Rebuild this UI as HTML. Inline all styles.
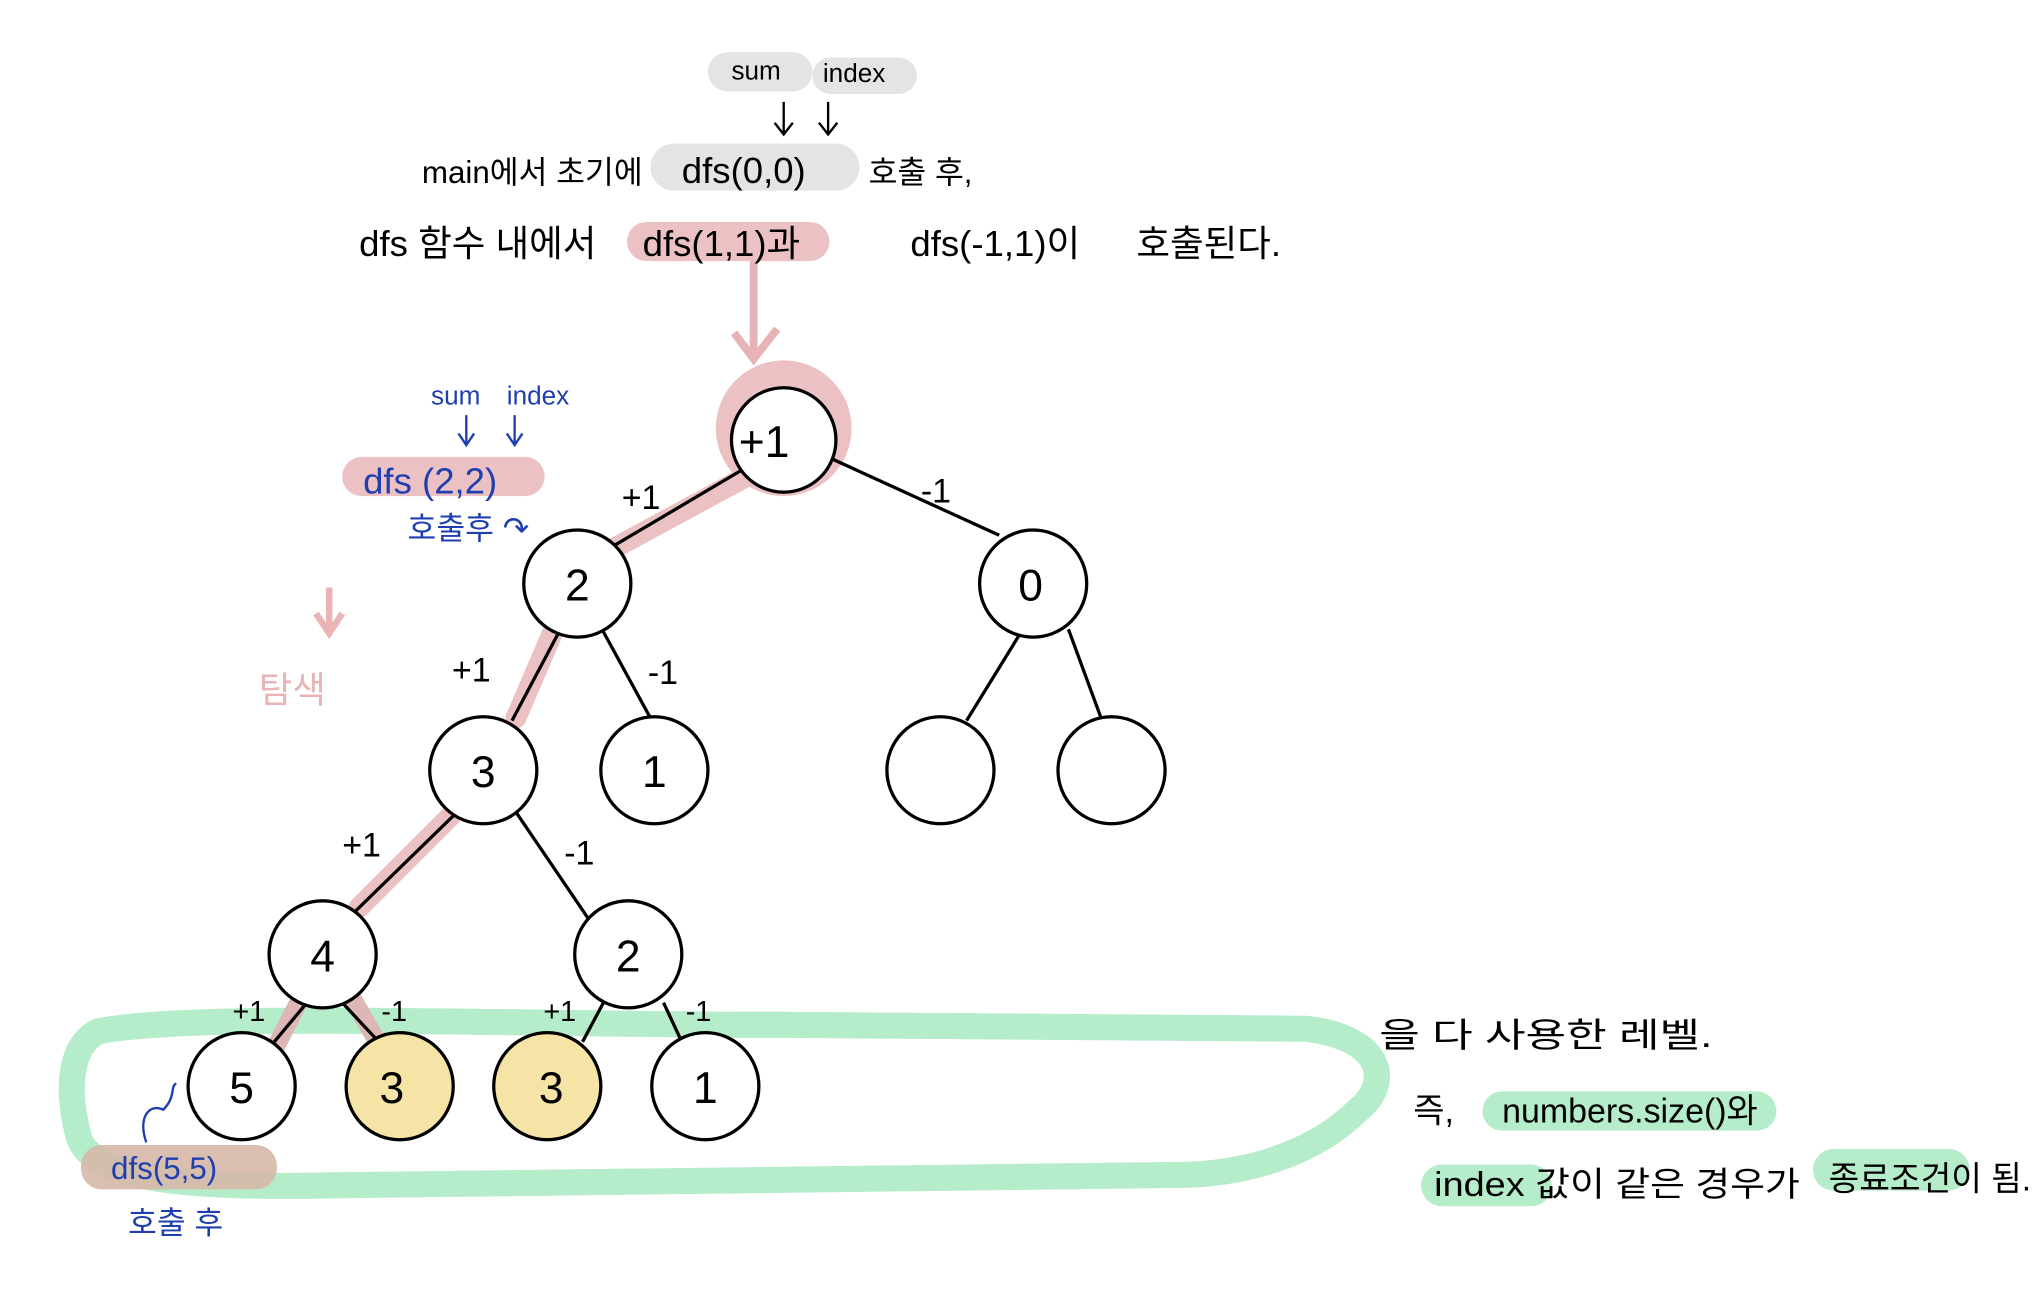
<!DOCTYPE html>
<html><head><meta charset="utf-8"><style>
html,body{margin:0;padding:0;background:#fff;}
svg{display:block;}
text{font-family:"Liberation Sans","Noto Sans CJK KR",sans-serif;}
</style></head><body>
<svg width="2035" height="1299" viewBox="0 0 1558 995" preserveAspectRatio="none" xmlns="http://www.w3.org/2000/svg">
<rect width="1558" height="995" fill="#fff"/>
<path d="M75,790 C150,775 400,785 600,785 L1000,788 C1060,795 1065,830 1040,850 C1010,880 960,900 900,900 L250,908 C150,910 70,905 60,870 C50,830 55,800 75,790 Z" fill="none" stroke="#b5ecc9" stroke-width="20"/>
<rect x="542" y="40" width="80" height="30" rx="15" fill="#e4e4e4"/>
<rect x="622" y="44" width="80" height="28" rx="14" fill="#e4e4e4"/>
<rect x="498" y="110" width="160" height="36" rx="18" fill="#e4e4e4"/>
<rect x="480" y="170" width="155" height="30" rx="15" fill="#ebc1c4"/>
<rect x="262" y="350" width="155" height="30" rx="15" fill="#ebc1c4"/>
<rect x="62" y="877" width="150" height="34" rx="16" fill="#d6b8a8" opacity="0.9"/>
<rect x="1135" y="836" width="225" height="30" rx="15" fill="#b5ecc9"/>
<rect x="1088" y="892" width="100" height="32" rx="16" fill="#b5ecc9"/>
<rect x="1388" y="880" width="120" height="32" rx="16" fill="#b5ecc9"/>
<path d="M577,200 L577,272 M562,255 L577,275 L595,252" stroke="#e7b3b6" stroke-width="6" fill="none"/>
<circle cx="600" cy="328" r="52" fill="#ebc1c4"/>
<path d="M590,355 L470,420" stroke="#ebc1c4" stroke-width="16" stroke-linecap="round"/>
<path d="M425,480 L395,550" stroke="#ebc1c4" stroke-width="16" stroke-linecap="round"/>
<path d="M345,625 L275,695" stroke="#ebc1c4" stroke-width="16" stroke-linecap="round"/>
<path d="M230,765 L212,800 M270,765 L290,800" stroke="#dcb7b5" stroke-width="14" stroke-linecap="round"/>
<path d="M252,450 L252,482 M242,470 L252,485 L262,470" stroke="#eab3b5" stroke-width="5" fill="none"/>
<g stroke="#000" stroke-width="2.5" fill="none">
<path d="M568,360 L470,418"/><path d="M638,352 L765,410"/>
<path d="M428,484 L392,552"/><path d="M462,484 L498,550"/>
<path d="M780,487 L740,552"/><path d="M818,482 L843,550"/>
<path d="M350,622 L270,700"/><path d="M395,622 L450,703"/>
<path d="M235,768 L210,798"/><path d="M262,768 L290,798"/>
<path d="M462,768 L446,798"/><path d="M508,768 L522,798"/>
</g>
<g stroke="#000" stroke-width="2.5">
<circle cx="600" cy="337" r="40" fill="#fff"/>
<circle cx="442" cy="447" r="41" fill="#fff"/>
<circle cx="791" cy="447" r="41" fill="#fff"/>
<circle cx="370" cy="590" r="41" fill="#fff"/>
<circle cx="501" cy="590" r="41" fill="#fff"/>
<circle cx="720" cy="590" r="41" fill="#fff"/>
<circle cx="851" cy="590" r="41" fill="#fff"/>
<circle cx="247" cy="731" r="41" fill="#fff"/>
<circle cx="481" cy="731" r="41" fill="#fff"/>
<circle cx="185" cy="832" r="41" fill="#fff"/>
<circle cx="306" cy="832" r="41" fill="#f6e4a6"/>
<circle cx="419" cy="832" r="41" fill="#f6e4a6"/>
<circle cx="540" cy="832" r="41" fill="#fff"/>
</g>
<g font-size="34" text-anchor="middle" fill="#000">
<text x="585" y="350">+1</text><text x="442" y="460">2</text><text x="789" y="460">0</text>
<text x="370" y="603">3</text><text x="501" y="603">1</text>
<text x="247" y="744">4</text><text x="481" y="744">2</text>
<text x="185" y="845">5</text><text x="300" y="845">3</text><text x="422" y="845">3</text><text x="540" y="845">1</text>
</g>
<g font-size="26" fill="#000">
<text x="476" y="390">+1</text><text x="705" y="385">-1</text>
<text x="346" y="522">+1</text><text x="496" y="524">-1</text>
<text x="262" y="656">+1</text><text x="432" y="662">-1</text>
<text x="178" y="782" font-size="22">+1</text><text x="292" y="782" font-size="22">-1</text>
<text x="416" y="782" font-size="22">+1</text><text x="525" y="782" font-size="22">-1</text>
</g>
<text x="560" y="61" font-size="20">sum</text><text x="630" y="63" font-size="20">index</text>
<path d="M600,78 L600,102 M593,94 L600,103 L607,94 M634,78 L634,102 M627,94 L634,103 L641,94" stroke="#000" stroke-width="1.8" fill="none"/>
<text x="323" y="140" font-size="24">main에서 초기에 <tspan x="522" font-size="28">dfs(0,0)</tspan> <tspan x="665">호출 후,</tspan></text>
<text x="275" y="196" font-size="28">dfs 함수 내에서 <tspan x="492">dfs(1,1)</tspan>과 <tspan x="697">dfs(-1,1)</tspan>이 <tspan x="870">호출된다.</tspan></text>
<g fill="#1f3fb0">
<text x="330" y="310" font-size="20">sum</text><text x="388" y="310" font-size="20">index</text>
<text x="278" y="378" font-size="28">dfs (2,2)</text>
<text x="312" y="413" font-size="24">호출후 ↷</text>
<text x="85" y="903" font-size="24">dfs(5,5)</text>
<text x="98" y="945" font-size="24">호출 후</text>
</g>
<path d="M357,318 L357,340 M351,332 L357,341 L363,332 M394,318 L394,340 M388,332 L394,341 L400,332" stroke="#1f3fb0" stroke-width="1.8" fill="none"/>
<path d="M112,875 C105,855 115,845 125,850 C135,840 130,832 135,830" stroke="#1f3fb0" stroke-width="1.8" fill="none"/>
<text x="198" y="538" font-size="28" fill="#eab3b5">탐색</text>
<g font-size="26" fill="#000">
<text x="1056" y="802" textLength="255" lengthAdjust="spacingAndGlyphs">을 다 사용한 레벨.</text>
<text x="1082" y="860">즉, <tspan x="1150">numbers.size()와</tspan></text>
<text x="1098" y="916" textLength="280" lengthAdjust="spacingAndGlyphs">index 값이 같은 경우가</text>
<text x="1400" y="912" textLength="155" lengthAdjust="spacingAndGlyphs">종료조건이 됨.</text>
</g>
</svg>
</body></html>
